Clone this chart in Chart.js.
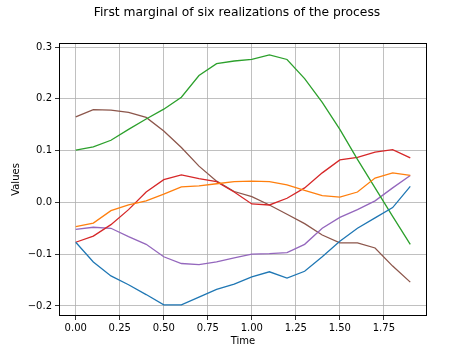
<!DOCTYPE html>
<html>
<head>
<meta charset="utf-8">
<script src="https://cdn.jsdelivr.net/npm/chart.js@4"></script>
<style>
html,body{margin:0;padding:0;background:#fff;}
#wrap{width:474px;height:355px;position:relative;}
</style>
</head>
<body>
<div id="wrap"><canvas id="c" width="474" height="355"></canvas></div>
<script>
const titleText = "First marginal of six realizations of the process";
const xLabel = "Time";
const yLabel = "Values";
const times = [0.0,0.1,0.2,0.3,0.4,0.5,0.6,0.7,0.8,0.9,1.0,1.1,1.2,1.3,1.4,1.5,1.6,1.7,1.8,1.9];
const xTicks = [0.0,0.25,0.5,0.75,1.0,1.25,1.5,1.75];
const yTicks = [-0.2,-0.1,0.0,0.1,0.2,0.3];
const seriesBlue   = [-0.077,-0.115,-0.142,-0.159,-0.178,-0.198,-0.198,-0.183,-0.168,-0.158,-0.144,-0.134,-0.146,-0.133,-0.105,-0.075,-0.050,-0.030,-0.010,0.031];
const seriesOrange = [-0.047,-0.040,-0.016,-0.005,0.003,0.016,0.030,0.032,0.036,0.040,0.041,0.040,0.034,0.023,0.013,0.010,0.020,0.047,0.057,0.052];
const seriesGreen  = [0.101,0.107,0.120,0.141,0.161,0.180,0.203,0.245,0.268,0.273,0.276,0.285,0.276,0.239,0.193,0.141,0.083,0.028,-0.027,-0.081];
const seriesRed    = [-0.077,-0.065,-0.043,-0.014,0.020,0.044,0.053,0.046,0.040,0.020,-0.003,-0.005,0.008,0.028,0.057,0.082,0.087,0.097,0.102,0.086];
const seriesPurple = [-0.052,-0.048,-0.050,-0.066,-0.081,-0.105,-0.118,-0.120,-0.115,-0.107,-0.100,-0.099,-0.097,-0.081,-0.050,-0.029,-0.014,0.003,0.028,0.052];
const seriesBrown  = [0.165,0.179,0.178,0.174,0.164,0.138,0.106,0.070,0.041,0.021,0.011,-0.005,-0.023,-0.041,-0.063,-0.078,-0.078,-0.088,-0.123,-0.154];
const seriesList = [seriesBlue, seriesOrange, seriesGreen, seriesRed, seriesPurple, seriesBrown];
const colors = ['#1f77b4','#ff7f0e','#2ca02c','#d62728','#9467bd','#8c564b'];

const FONT = "'DejaVu Sans', sans-serif";

const datasets = seriesList.map((s, i) => ({
  data: times.map((t, k) => ({x: t, y: s[k]})),
  borderColor: colors[i],
  borderWidth: 1.3,
  pointRadius: 0,
  fill: false,
  tension: 0
}));

const framePlugin = {
  id: 'frame',
  afterDraw(chart) {
    const {ctx, chartArea: a} = chart;
    ctx.save();
    ctx.strokeStyle = '#000';
    ctx.lineWidth = 1;
    ctx.strokeRect(Math.round(a.left) + 0.5, Math.round(a.top) + 0.5, Math.round(a.right - a.left) - 1, Math.round(a.bottom - a.top) - 1);
    ctx.fillStyle = '#000';
    ctx.font = "12.3px " + FONT;
    ctx.textAlign = 'center';
    ctx.textBaseline = 'middle';
    ctx.fillText(titleText, 237, 13);
    ctx.restore();
  }
};

new Chart(document.getElementById('c'), {
  type: 'line',
  data: { datasets },
  options: {
    responsive: false,
    animation: false,
    events: [],
    layout: { padding: { left: 0, right: 47, top: 43, bottom: 0 } },
    plugins: { legend: { display: false }, tooltip: { enabled: false } },
    scales: {
      x: {
        type: 'linear',
        min: -0.095,
        max: 1.995,
        afterBuildTicks(scale) { scale.ticks = xTicks.map(v => ({value: v})); },
        afterFit(scale) { scale.height = 39; },
        ticks: {
          callback: v => v.toFixed(2),
          font: { family: FONT, size: 10 },
          color: '#000',
          padding: 2,
          maxRotation: 0,
          autoSkip: false
        },
        grid: { color: '#b0b0b0', lineWidth: 0.8, tickLength: 4, tickColor: '#000' },
        border: { display: false },
        title: { display: true, text: xLabel, font: { family: FONT, size: 10 }, color: '#000', padding: { top: 2, bottom: 8 } }
      },
      y: {
        type: 'linear',
        min: -0.2194,
        max: 0.3078,
        afterBuildTicks(scale) { scale.ticks = yTicks.map(v => ({value: v})); },
        afterFit(scale) { scale.width = 59; },
        ticks: {
          callback: v => v.toFixed(1).replace('-', '\u2212'),
          font: { family: FONT, size: 10 },
          color: '#000',
          padding: 3,
          autoSkip: false
        },
        grid: { color: '#b0b0b0', lineWidth: 0.8, tickLength: 4, tickColor: '#000' },
        border: { display: false },
        title: { display: true, text: yLabel, font: { family: FONT, size: 10 }, color: '#000', padding: { top: 10, bottom: 0 } }
      }
    }
  },
  plugins: [framePlugin]
});
</script>
</body>
</html>
